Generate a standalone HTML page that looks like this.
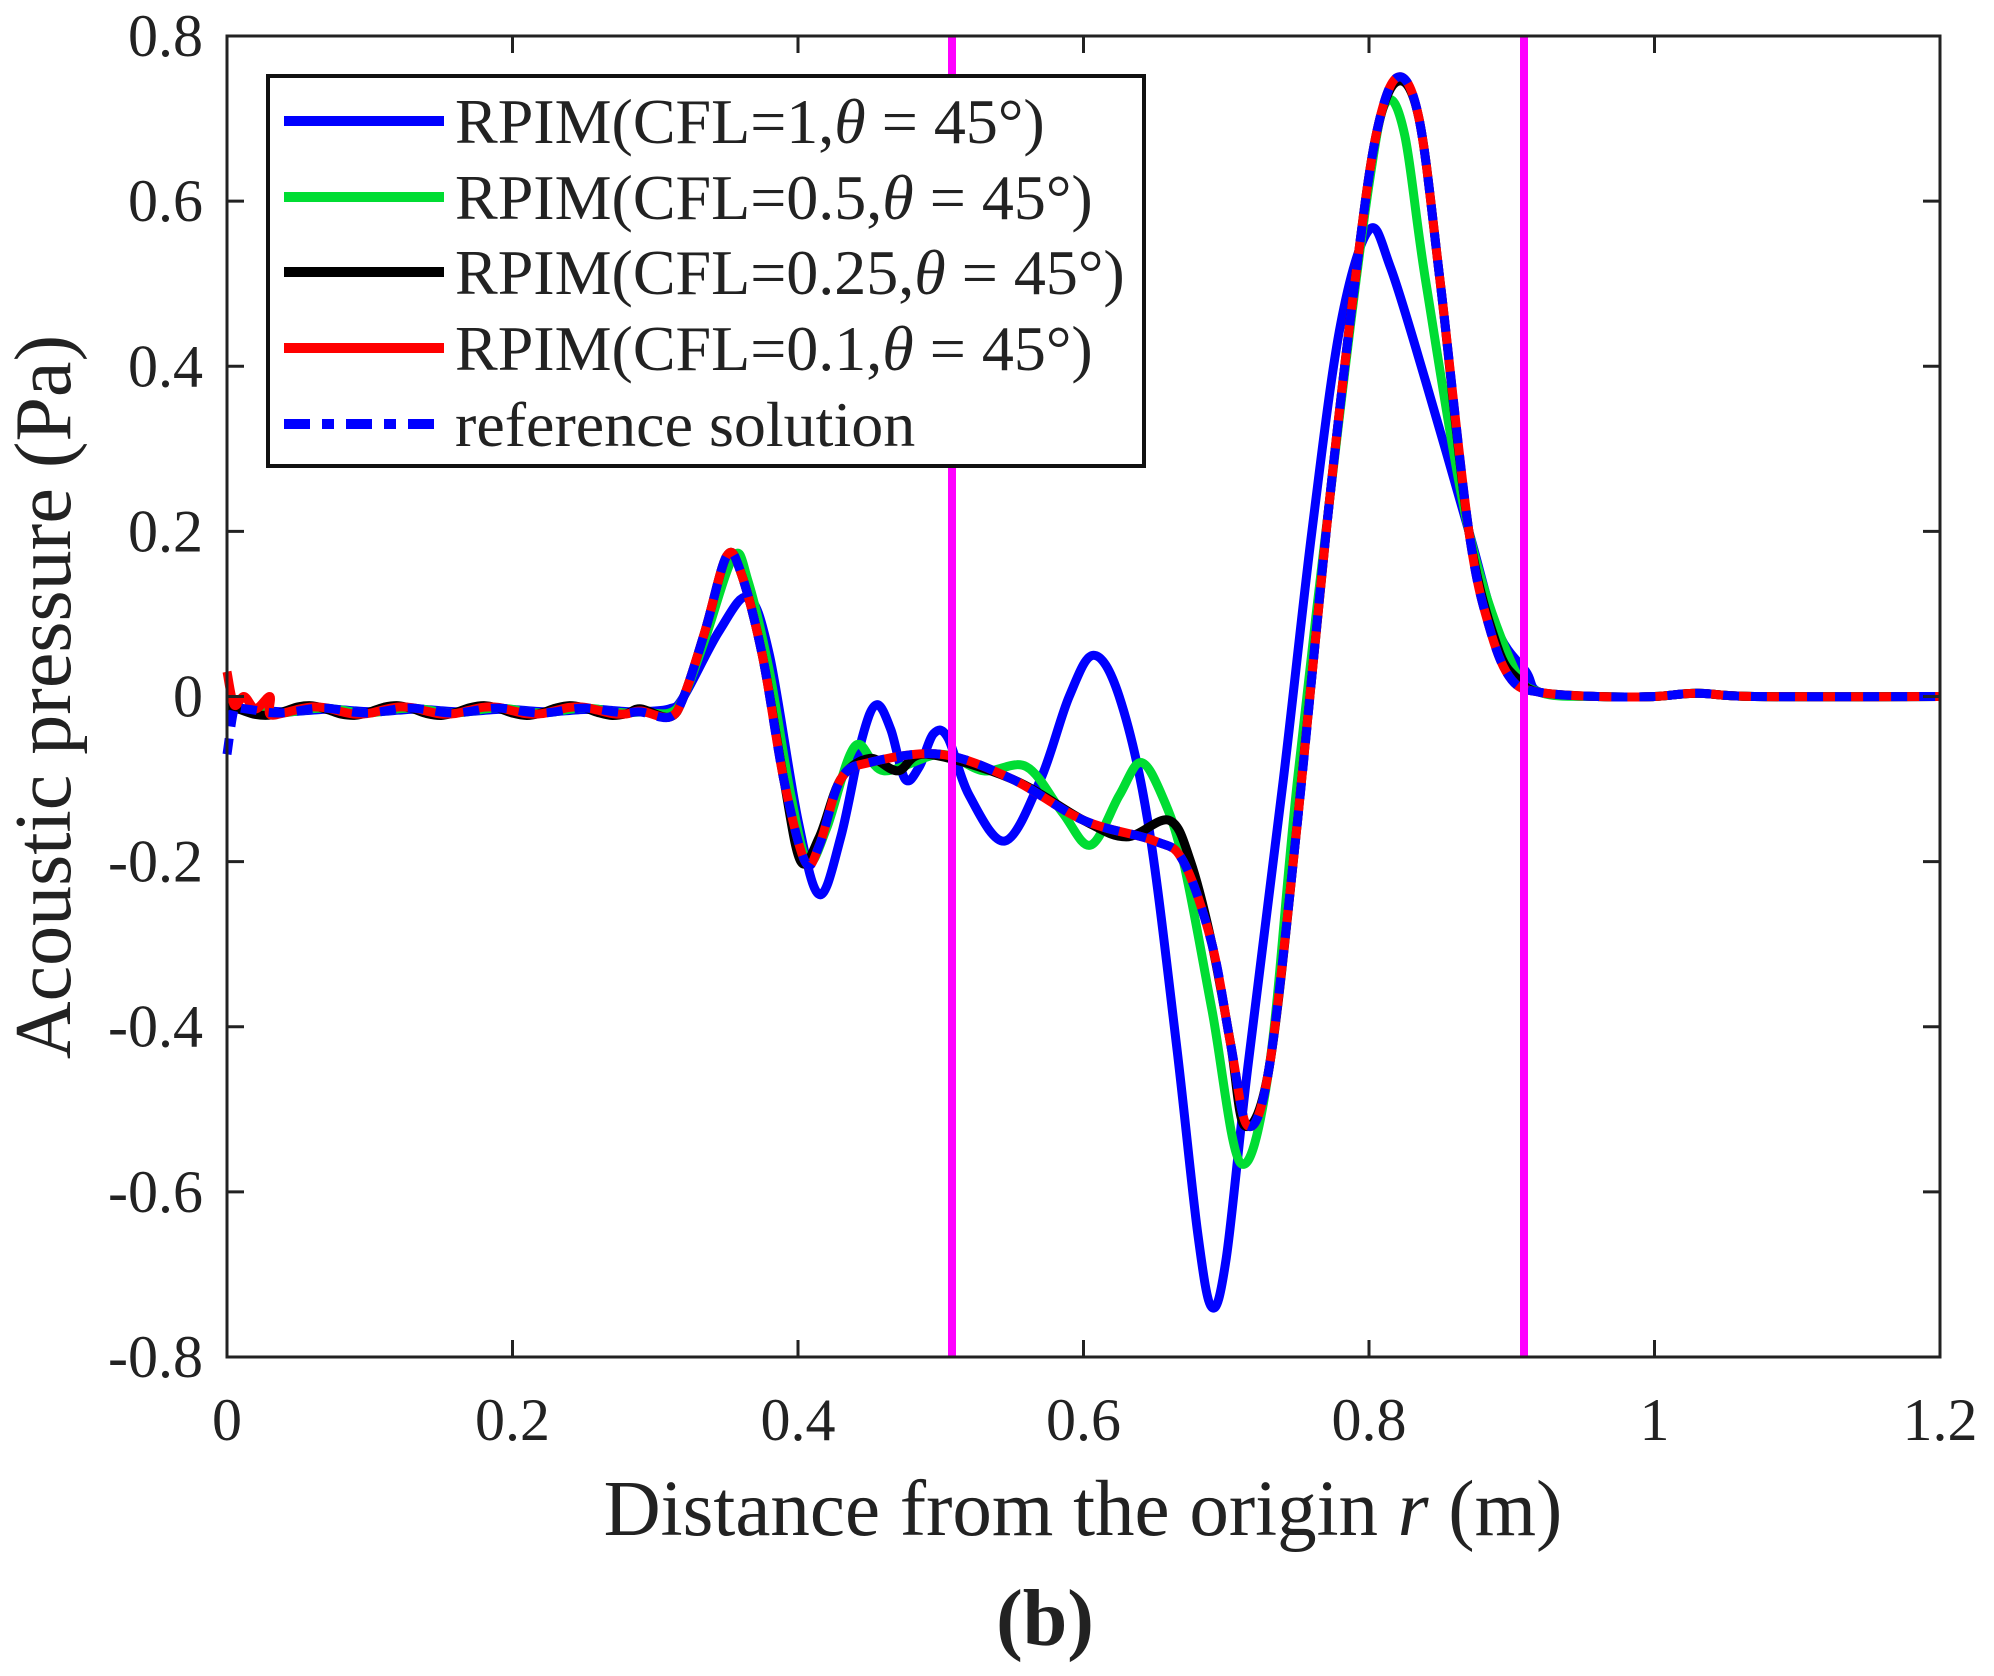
<!DOCTYPE html>
<html><head><meta charset="utf-8"><style>
html,body{margin:0;padding:0;background:#fff}
svg{display:block}
text{font-family:"Liberation Serif","Times New Roman",serif;fill:#222}
</style></head><body>
<svg id="s" width="1994" height="1676" viewBox="0 0 1994 1676" xmlns="http://www.w3.org/2000/svg">
<g id="curves"></g>
<line x1="952" y1="36" x2="952" y2="1357" stroke="#ff00ff" stroke-width="8"/>
<line x1="1524" y1="36" x2="1524" y2="1357" stroke="#ff00ff" stroke-width="8"/>
<g id="ticks" stroke="#222" stroke-width="3"></g>
<rect x="227" y="36" width="1713" height="1321" fill="none" stroke="#222" stroke-width="3"/>
<g id="labels" font-size="60"></g>
<rect x="268" y="76" width="876" height="390" fill="#fff" stroke="#111" stroke-width="4"/>
<line x1="284" y1="121" x2="444" y2="121" stroke="#0000ff" stroke-width="10"/>
<line x1="284" y1="197" x2="444" y2="197" stroke="#00dd33" stroke-width="10"/>
<line x1="284" y1="272" x2="444" y2="272" stroke="#000" stroke-width="10"/>
<line x1="284" y1="348" x2="444" y2="348" stroke="#ff0000" stroke-width="10"/>
<line x1="284" y1="424" x2="444" y2="424" stroke="#0000ff" stroke-width="10" stroke-dasharray="26,12,12,12"/>
<g font-size="64">
<text x="455" y="143">RPIM(CFL=1,<tspan font-style="italic">θ</tspan> = 45°)</text>
<text x="455" y="219">RPIM(CFL=0.5,<tspan font-style="italic">θ</tspan> = 45°)</text>
<text x="455" y="294">RPIM(CFL=0.25,<tspan font-style="italic">θ</tspan> = 45°)</text>
<text x="455" y="370">RPIM(CFL=0.1,<tspan font-style="italic">θ</tspan> = 45°)</text>
<text x="455" y="446">reference solution</text>
</g>
<text x="1083" y="1535" font-size="79" text-anchor="middle">Distance from the origin <tspan font-style="italic">r</tspan> (m)</text>
<text x="1045" y="1645" font-size="80" font-weight="bold" text-anchor="middle">(b)</text>
<text transform="translate(70,697) rotate(-90)" font-size="80" text-anchor="middle">Acoustic pressure (Pa)</text>
</svg>
<script>
var NS="http://www.w3.org/2000/svg";
function X(r){return 227+r/1.2*1713}
function Y(p){return 696.5-p*825.6}
var t=document.getElementById('ticks'),L=document.getElementById('labels');
function el(tag,a,par,txt){var e=document.createElementNS(NS,tag);for(var k in a)e.setAttribute(k,a[k]);if(txt!==undefined)e.textContent=txt;par.appendChild(e);return e}
var xl=['0','0.2','0.4','0.6','0.8','1','1.2'];
for(var i=0;i<=6;i++){var x=X(i*0.2);el('line',{x1:x,y1:1357,x2:x,y2:1340},t);el('line',{x1:x,y1:36,x2:x,y2:53},t);
el('text',{x:x,y:1440,'text-anchor':'middle'},L,xl[i]);}
var yl=['-0.8','-0.6','-0.4','-0.2','0','0.2','0.4','0.6','0.8'];
for(var j=0;j<=8;j++){var y=Y(-0.8+j*0.2);el('line',{x1:227,y1:y,x2:244,y2:y},t);el('line',{x1:1940,y1:y,x2:1923,y2:y},t);
el('text',{x:203,y:y+20,'text-anchor':'end'},L,yl[j]);}
function path(pts){var P=pts.map(function(q){return [X(q[0]),Y(q[1])]});var d='M'+P[0][0].toFixed(1)+','+P[0][1].toFixed(1);
for(var i=0;i<P.length-1;i++){var p0=P[i-1]||P[i],p1=P[i],p2=P[i+1],p3=P[i+2]||p2;
d+='C'+(p1[0]+(p2[0]-p0[0])/6).toFixed(1)+','+(p1[1]+(p2[1]-p0[1])/6).toFixed(1)+' '+(p2[0]-(p3[0]-p1[0])/6).toFixed(1)+','+(p2[1]-(p3[1]-p1[1])/6).toFixed(1)+' '+p2[0].toFixed(1)+','+p2[1].toFixed(1);}
return d}
function flat(start,w){var a=[];for(var r=0.01;r<0.3;r+=0.01){a.push([r,-0.017+w*Math.sin(r*731+w)*0.003]);}return a}
var tail=[[0.92,0.005],[0.96,0.0],[1.0,0.0],[1.03,0.004],[1.07,0.0],[1.2,0]];
var ref=[[0,-0.07],[0.005,-0.015]].concat(flat(0,1)).concat([[0.31,-0.025],[0.32,0.0],[0.335,0.08],[0.35,0.17],[0.36,0.15],[0.375,0.05],[0.39,-0.1],[0.405,-0.2],[0.415,-0.18],[0.43,-0.1],[0.45,-0.08],[0.5,-0.07],[0.55,-0.1],[0.6,-0.15],[0.65,-0.175],[0.67,-0.2],[0.69,-0.3],[0.703,-0.42],[0.715,-0.52],[0.73,-0.45],[0.75,-0.15],[0.77,0.2],[0.79,0.5],[0.805,0.68],[0.82,0.75],[0.835,0.7],[0.85,0.5],[0.87,0.2],[0.885,0.08],[0.9,0.02]]).concat(tail);
var refMain=ref.filter(function(q){return q[0]>=0.305});
var red=[[0,0.03],[0.005,-0.01],[0.012,0.0],[0.02,-0.015],[0.03,0.0]].concat(flat(0,1.5).slice(2)).concat(refMain);
var blk=[[0,-0.01]].concat(flat(0,2)).concat([[0.31,-0.025],[0.32,0.0],[0.335,0.08],[0.35,0.17],[0.36,0.15],[0.375,0.05],[0.39,-0.1],[0.402,-0.2],[0.415,-0.17],[0.43,-0.1],[0.45,-0.075],[0.47,-0.09],[0.49,-0.07],[0.55,-0.1],[0.6,-0.15],[0.63,-0.17],[0.66,-0.15],[0.675,-0.2],[0.69,-0.3],[0.703,-0.42],[0.713,-0.52],[0.73,-0.45],[0.75,-0.15],[0.77,0.2],[0.79,0.5],[0.805,0.68],[0.82,0.745],[0.835,0.7],[0.85,0.5],[0.87,0.2],[0.89,0.06],[0.905,0.02]]).concat(tail);
var grn=[[0,-0.01]].concat(flat(0,1)).concat([[0.31,-0.02],[0.32,0.0],[0.335,0.07],[0.355,0.17],[0.365,0.14],[0.38,0.03],[0.395,-0.12],[0.407,-0.2],[0.42,-0.16],[0.44,-0.06],[0.46,-0.09],[0.5,-0.07],[0.53,-0.09],[0.56,-0.085],[0.585,-0.14],[0.605,-0.18],[0.625,-0.12],[0.64,-0.08],[0.655,-0.12],[0.67,-0.2],[0.69,-0.38],[0.71,-0.565],[0.73,-0.45],[0.75,-0.1],[0.78,0.35],[0.8,0.62],[0.812,0.72],[0.825,0.68],[0.84,0.5],[0.87,0.2],[0.9,0.04]]).concat(tail);
var b1=[[0,-0.015]].concat(flat(0,0.5)).concat([[0.31,-0.015],[0.32,0.0],[0.345,0.08],[0.365,0.12],[0.38,0.05],[0.4,-0.15],[0.415,-0.24],[0.43,-0.17],[0.445,-0.05],[0.455,-0.01],[0.465,-0.04],[0.475,-0.1],[0.485,-0.085],[0.495,-0.045],[0.505,-0.05],[0.52,-0.12],[0.545,-0.175],[0.57,-0.1],[0.59,0.0],[0.607,0.05],[0.625,0.0],[0.645,-0.15],[0.665,-0.42],[0.68,-0.65],[0.69,-0.74],[0.7,-0.68],[0.715,-0.45],[0.74,-0.1],[0.76,0.2],[0.78,0.45],[0.8,0.565],[0.815,0.52],[0.84,0.38],[0.87,0.2],[0.89,0.08],[0.91,0.03]]).concat(tail);
var g=document.getElementById('curves');
[[b1,'#0000ff',''],[grn,'#00dd33',''],[blk,'#000',''],[red,'#ff0000',''],[ref,'#0000ff','16,12']].forEach(function(s){
var a={d:path(s[0]),fill:'none',stroke:s[1],'stroke-width':9,'stroke-linejoin':'round'};if(s[2])a['stroke-dasharray']=s[2];el('path',a,g);});
</script>
</body></html>
